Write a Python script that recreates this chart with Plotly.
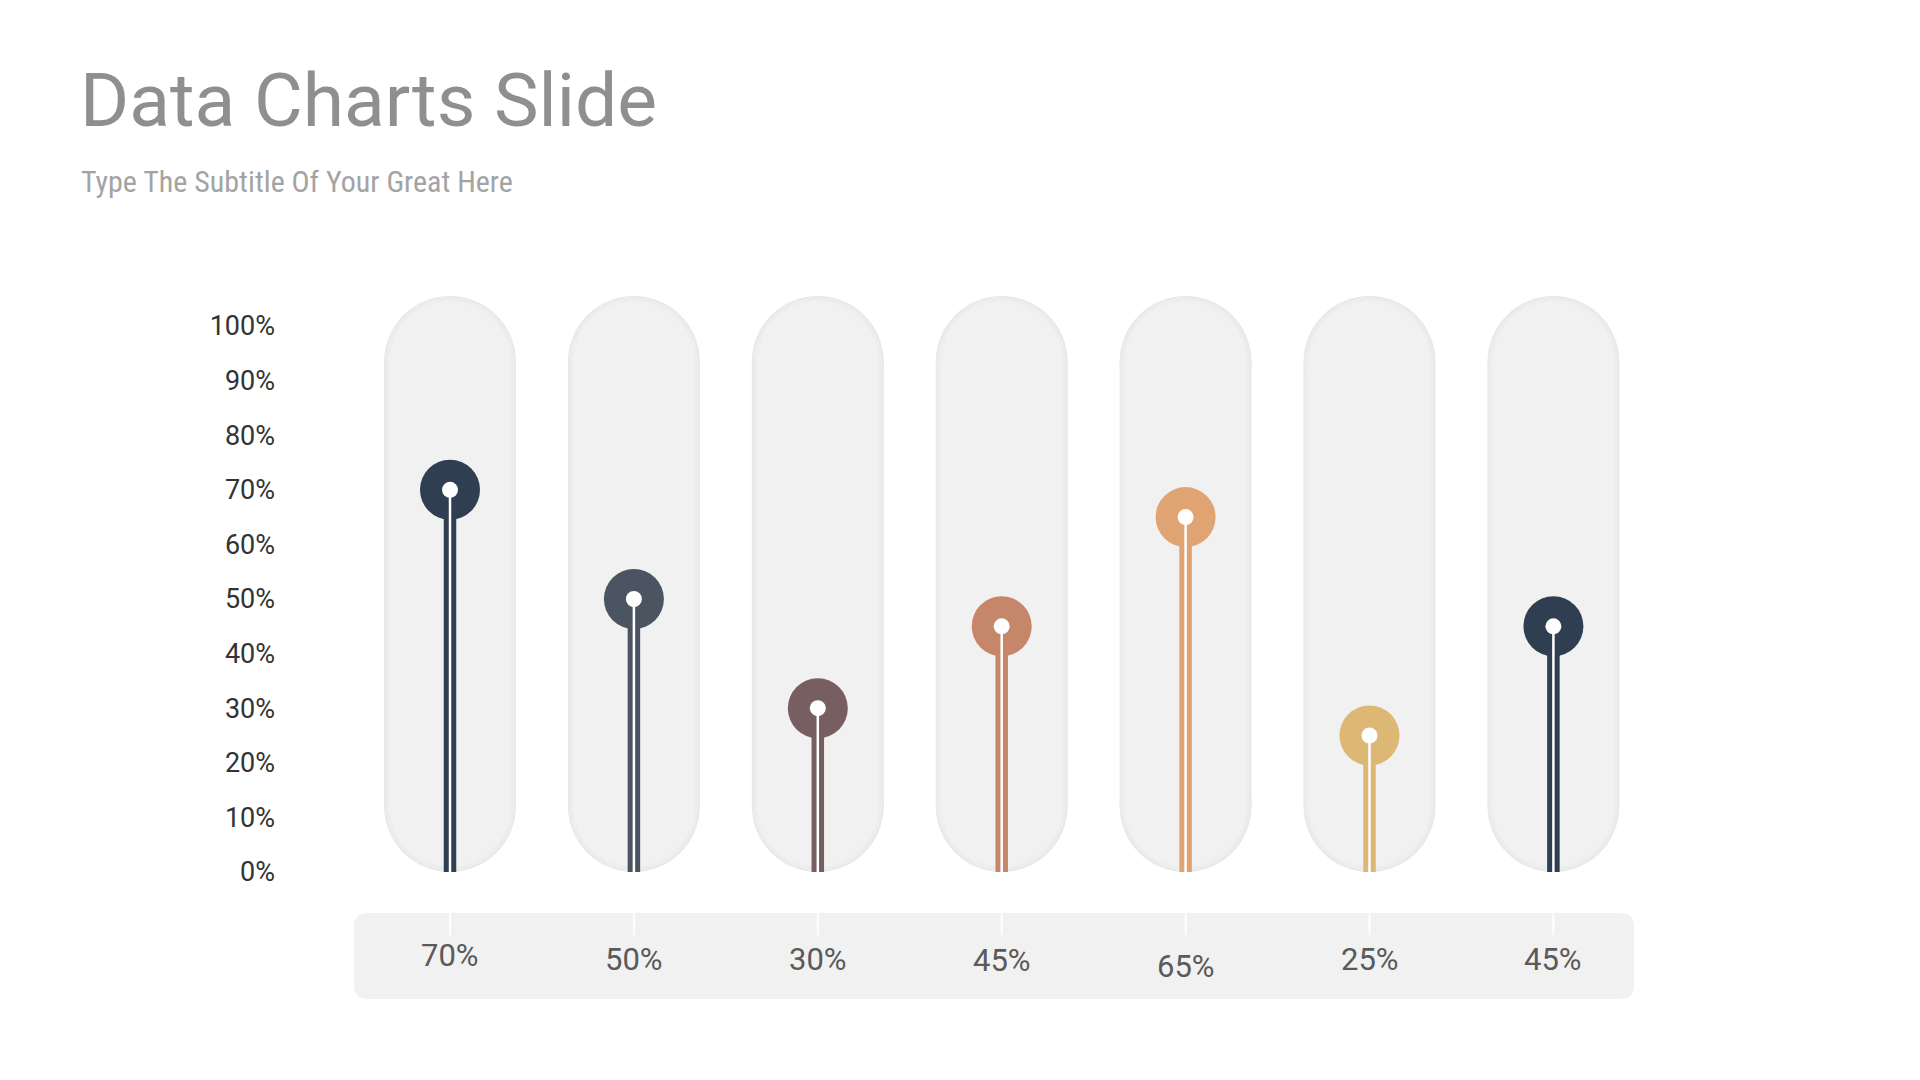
import plotly.graph_objects as go

# data
categories = ["A", "B", "C", "D", "E", "F", "G"]
values = [70, 50, 30, 45, 65, 25, 45]
labels = ["70%", "50%", "30%", "45%", "65%", "25%", "45%"]
colors = ["#2f3e51", "#4a5561", "#775f61", "#c6866a", "#e0a472", "#ddb774", "#2f3e51"]
y_ticks = [0, 10, 20, 30, 40, 50, 60, 70, 80, 90, 100]

W, H = 1920, 1080
LEFT = 285                  # left margin (px)
X0_PX, X_STEP = 442, 183.9  # px of first column, px per column
Y0_PX, Y_STEP = 864, 5.46   # px of 0%, px per 1%

x_range = [(LEFT - X0_PX) / X_STEP, (W - X0_PX) / X_STEP]
y_range = [(Y0_PX - H) / Y_STEP, Y0_PX / Y_STEP]


def px2x(px):
    return (px - X0_PX) / X_STEP


def py2y(py):
    return (Y0_PX - py) / Y_STEP


def px2paper(px):
    return (px - LEFT) / (W - LEFT)


def py2paper(py):
    return 1 - py / H


xs = list(range(len(categories)))
shapes = []

# background pills (a few layers for a soft edge)
pill_r = 66
pill_bot_c = py2y(Y0_PX - pill_r)
pill_top_c = py2y(288 + pill_r)
for inset, col in [(0, "#e9e9e9"), (2, "#ededed"), (5, "#f1f1f1")]:
    r = pill_r - inset
    for i in xs:
        shapes.append(dict(type="rect", xref="x", yref="y", layer="below",
                           x0=i - r / X_STEP, x1=i + r / X_STEP,
                           y0=pill_bot_c, y1=pill_top_c,
                           fillcolor=col, line_width=0))
        for yc in (pill_bot_c, pill_top_c):
            shapes.append(dict(type="circle", xref="x", yref="y", layer="below",
                               xsizemode="pixel", ysizemode="pixel",
                               xanchor=i, yanchor=yc,
                               x0=-r, x1=r, y0=-r, y1=r,
                               fillcolor=col, line_width=0))

# bottom label box (rounded rect)
bx0, bx1, by0, by1, rr = 346, 1626, 905, 991, 14


def P(px, py):
    return "%.4f,%.4f" % (px2x(px), py2y(py))


path = ("M " + P(bx0 + rr, by0) + " L " + P(bx1 - rr, by0) +
        " Q " + P(bx1, by0) + " " + P(bx1, by0 + rr) +
        " L " + P(bx1, by1 - rr) + " Q " + P(bx1, by1) + " " + P(bx1 - rr, by1) +
        " L " + P(bx0 + rr, by1) + " Q " + P(bx0, by1) + " " + P(bx0, by1 - rr) +
        " L " + P(bx0, by0 + rr) + " Q " + P(bx0, by0) + " " + P(bx0 + rr, by0) + " Z")
shapes.append(dict(type="path", xref="x", yref="y", layer="below", path=path,
                   fillcolor="#f1f1f1", line_width=0))

fig = go.Figure()

# stems
fig.add_trace(go.Bar(x=xs, y=values, base=0, width=12.5 / X_STEP,
                     marker=dict(color=colors, line_width=0), hoverinfo="skip"))

# circle heads
fig.add_trace(go.Scatter(x=xs, y=values, mode="markers", hoverinfo="skip",
                         marker=dict(size=60, color=colors, line_width=0)))

# white split line in the stems
lx, ly = [], []
for i, v in zip(xs, values):
    lx += [i, i, None]
    ly += [0, v, None]
fig.add_trace(go.Scatter(x=lx, y=ly, mode="lines", hoverinfo="skip",
                         line=dict(color="white", width=2.5)))

# white dots
fig.add_trace(go.Scatter(x=xs, y=values, mode="markers", hoverinfo="skip",
                         marker=dict(size=16, color="white", line_width=0)))

# small white ticks on top of the label box
tx, ty = [], []
for i in xs:
    tx += [i, i, None]
    ty += [py2y(by0), py2y(927), None]
fig.add_trace(go.Scatter(x=tx, y=ty, mode="lines", hoverinfo="skip",
                         line=dict(color="white", width=2)))

annotations = [
    dict(text="Data Charts Slide", xref="paper", yref="paper",
         x=px2paper(70), y=py2paper(92), xanchor="left", yanchor="middle",
         showarrow=False, font=dict(family="Roboto", size=75, color="#8f8f8f")),
    dict(text="Type The Subtitle Of Your Great Here", xref="paper", yref="paper",
         x=px2paper(71), y=py2paper(174), xanchor="left", yanchor="middle",
         showarrow=False,
         font=dict(family="Roboto Condensed, Roboto", size=30, color="#a3a3a3")),
]
label_dy = [-4, 0, 0, 1, 7, 0, 0]  # slight vertical jitter of the box labels
for i, lab, dy in zip(xs, labels, label_dy):
    annotations.append(dict(text=lab, x=i, y=py2y(951 + dy), xref="x", yref="y",
                            showarrow=False, xanchor="center", yanchor="middle",
                            font=dict(family="Roboto", size=31, color="#5a5a5a")))

fig.update_layout(
    width=W, height=H,
    margin=dict(l=LEFT, r=0, t=0, b=0),
    paper_bgcolor="white", plot_bgcolor="white",
    showlegend=False,
    shapes=shapes,
    annotations=annotations,
    xaxis=dict(range=x_range, visible=False, fixedrange=True),
    yaxis=dict(range=y_range, tickvals=y_ticks, ticktext=[f"{t}%" for t in y_ticks],
               showgrid=False, zeroline=False, showline=False, ticks="",
               ticklabelstandoff=17, fixedrange=True,
               tickfont=dict(family="Roboto", size=27, color="#333333")),
    font=dict(family="Roboto"),
)

fig.write_html("out.html", config={"displayModeBar": False})
